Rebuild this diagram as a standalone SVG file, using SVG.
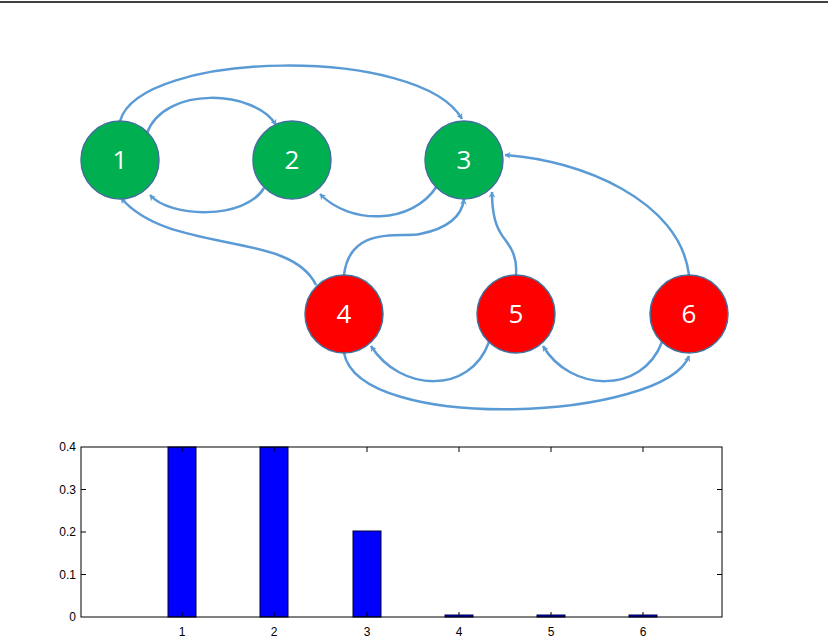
<svg xmlns="http://www.w3.org/2000/svg" width="828" height="644" viewBox="0 0 828 644">
<style>
.e{fill:none;stroke:#5b9bd5;stroke-width:2.5}
.g{fill:#00b050;stroke:#41719c;stroke-width:1.5}
.r{fill:#ff0000;stroke:#41719c;stroke-width:1.5}
.n{font-family:"Open Sans","Liberation Sans",sans-serif;font-size:26px;fill:#fff;text-anchor:middle}
.t{font-family:"Liberation Sans",sans-serif;font-size:12px;fill:#000}
.b{fill:#0000ff;stroke:#000033;stroke-width:1}
</style>
<defs><marker id="a" viewBox="0 0 12 12" refX="11" refY="6" markerWidth="5" markerHeight="5" orient="auto" markerUnits="userSpaceOnUse" style="overflow:visible"><path d="M-2,-2 L12,6 L-2,14 L2,6 Z" fill="#5b9bd5" transform="scale(1)"/></marker></defs>
<line x1="0" y1="2" x2="828" y2="2" stroke="#000" stroke-width="1.5"/>
<g id="connectors" marker-end="url(#a)">
<path class="e" d="M120,121 C140,50 420,45 462,119"/>
<path class="e" d="M147,133 C165,85 255,90 276,125"/>
<path class="e" d="M264,188 C245,220 170,218 150,195"/>
<path class="e" d="M437,186 C412,225 350,225 320,194"/>
<path class="e" d="M316,285 C290,230 170,255 121,198"/>
<path class="e" d="M344,275 C350,225 400,238 420,234 C450,228 462,215 464,199"/>
<path class="e" d="M516,275 C518,250 505,242 500,232 C494,222 492,205 492,192"/>
<path class="e" d="M689,275 C680,200 580,160 505,155"/>
<path class="e" d="M489,342 C470,395 400,392 371,346"/>
<path class="e" d="M662,342 C642,395 570,392 543,346"/>
<path class="e" d="M344,353 C360,435 665,420 689,356"/>
</g>
<g id="n1"><circle class="g" cx="120" cy="160" r="39"/><text class="n" x="120" y="169">1</text></g>
<g id="n2"><circle class="g" cx="292" cy="160" r="39"/><text class="n" x="292" y="169">2</text></g>
<g id="n3"><circle class="g" cx="464" cy="160" r="39"/><text class="n" x="464" y="169">3</text></g>
<g id="n4"><circle class="r" cx="344" cy="314" r="39"/><text class="n" x="344" y="323">4</text></g>
<g id="n5"><circle class="r" cx="516" cy="314" r="39"/><text class="n" x="516" y="323">5</text></g>
<g id="n6"><circle class="r" cx="689" cy="314" r="39"/><text class="n" x="689" y="323">6</text></g>
<g id="chart">
<rect class="b" x="168" y="447" width="28" height="170"/>
<rect class="b" x="260" y="447" width="28" height="170"/>
<rect class="b" x="353" y="531" width="28" height="86"/>
<rect class="b" x="445" y="615" width="28" height="2"/>
<rect class="b" x="537" y="615" width="28" height="2"/>
<rect class="b" x="629" y="615" width="28" height="2"/>
<rect x="81" y="447" width="641" height="170" fill="none" stroke="#000" stroke-width="1"/>
<g stroke="#000" stroke-width="1">
<path d="M81,532h5M81,489.5h5M81,574.5h5M722,532h-5M722,489.5h-5M722,574.5h-5"/>
<path d="M182,617v-5M274,617v-5M367,617v-5M459,617v-5M551,617v-5M643,617v-5M182,447v5M274,447v5M367,447v5M459,447v5M551,447v5M643,447v5"/>
</g>
<g class="t" text-anchor="end">
<text x="76" y="451">0.4</text><text x="76" y="494">0.3</text><text x="76" y="536">0.2</text><text x="76" y="579">0.1</text><text x="76" y="621">0</text>
</g>
<g class="t" text-anchor="middle">
<text x="182" y="636">1</text><text x="274" y="636">2</text><text x="367" y="636">3</text><text x="459" y="636">4</text><text x="551" y="636">5</text><text x="643" y="636">6</text>
</g>
</g>
</svg>
